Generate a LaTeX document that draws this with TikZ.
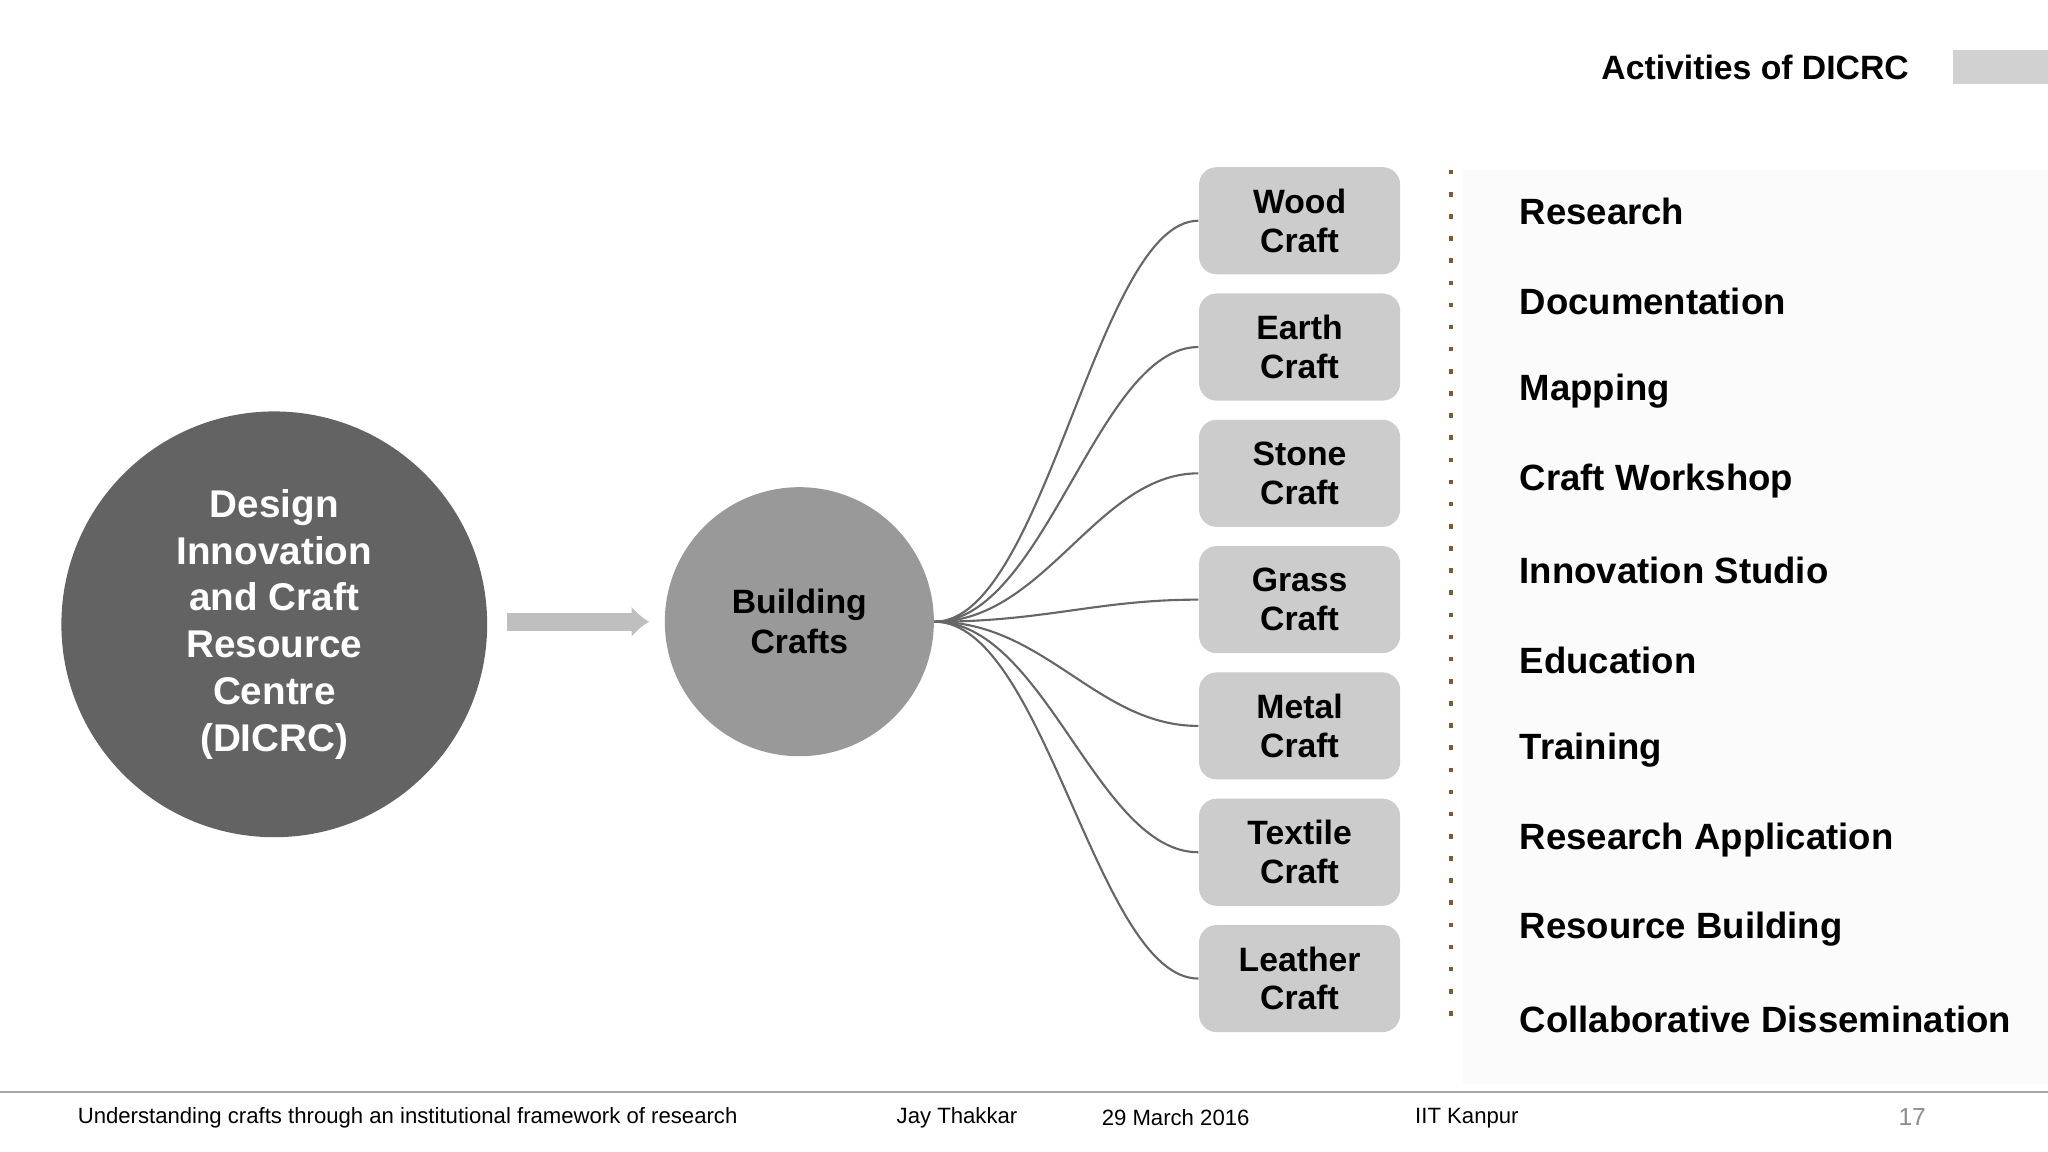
\documentclass[tikz,border=0pt]{standalone}
\usepackage{fontspec}
\setmainfont{Liberation Sans}
\usetikzlibrary{arrows.meta}
\begin{document}
\begin{tikzpicture}[x=0.013061cm,y=-0.013061cm,
  box/.style={draw=none,fill=black!20,rounded corners=5pt,text width=1.6cm,inner sep=0pt,align=center,font=\fontsize{9.6}{11}\selectfont\bfseries},
  lnk/.style={draw=black!60,line width=0.6pt},
  act/.style={anchor=west,inner sep=0pt,font=\fontsize{10.4}{12}\selectfont\bfseries},
  ft/.style={anchor=west,inner sep=0pt,font=\fontsize{6.3}{7}\selectfont}]
\useasboundingbox (0,0) rectangle (1568,882);
\fill[black!1.5] (1120,130) rectangle (1568,830);
\node[anchor=east,inner sep=0pt,font=\fontsize{9.6}{11}\selectfont\bfseries] (title) at (1462,52) {Activities of DICRC};
\fill[black!18] (1495,38) rectangle (1568,64);
\node[circle,fill=black!61,minimum size=326*0.013061cm,text=white,align=center,font=\fontsize{11}{13.3}\selectfont\bfseries] (big) at (210,478) {Design\\Innovation\\and Craft\\Resource\\Centre\\(DICRC)};
\node[circle,fill=black!40,minimum size=206*0.013061cm,align=center,font=\fontsize{9.6}{11.3}\selectfont\bfseries] (bc) at (612,476) {Building\\Crafts};
\coordinate (a1) at (388,476); \coordinate (a2) at (497,476);
\draw[black!25,line width=5pt,-{Latex[length=5pt,width=9pt]}] (a1) -- (a2);
\foreach \n/\t [count=\i from 0] in {w/Wood,e/Earth,s/Stone,g/Grass,m/Metal,t/Textile,l/Leather}{
  \node[box,minimum width=154*0.013061cm,minimum height=82*0.013061cm] (\n) at (995,169+96.7*\i) {\t\\Craft};
  \draw[lnk] (bc.east) .. controls (800,476) and (840,169+96.7*\i) .. (\n.west);
}
\coordinate (d1) at (1111,130); \coordinate (d2) at (1111,790);
\draw[brown!70!black,line width=1.3pt,dash pattern=on 1.3pt off 5pt] (d1) -- (d2);
\foreach \t [count=\i from 0] in {Research,Documentation,Mapping,Craft Workshop,Innovation Studio,Education,Training,Research Application,Resource Building,Collaborative Dissemination}{
  \node[act] (r\i) at (1163,162+68.7*\i) {\t};
}
\coordinate (f1) at (0,836); \coordinate (f2) at (1568,836);
\draw[black!35,line width=0.8pt] (f1) -- (f2);
\node[ft] (ft1) at (59,856) {Understanding crafts through an institutional framework of research};
\node[ft] (ft2) at (686,856) {Jay Thakkar};
\node[ft] (ft3) at (843,856) {29 March 2016};
\node[ft] (ft4) at (1083,856) {IIT Kanpur};
\node[ft,text=black!45,font=\fontsize{7}{8}\selectfont] (ft5) at (1453,855) {17};
\end{tikzpicture}
\end{document}
